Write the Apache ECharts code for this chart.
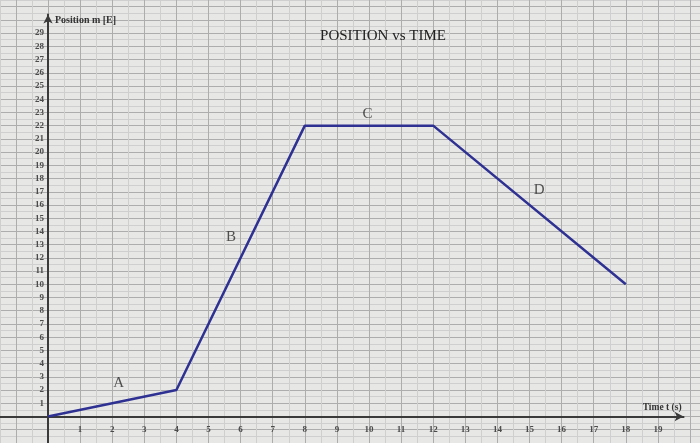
<!DOCTYPE html>
<html>
<head>
<meta charset="utf-8">
<script src="https://cdn.jsdelivr.net/npm/echarts@6/dist/echarts.min.js"></script>
<style>html,body{margin:0;padding:0;background:#e7e7e6}#c{width:700px;height:443px}</style>
</head>
<body>
<div id="c"></div>
<script>
// Data
const times = [0, 4, 8, 12, 18];
const positions = [0, 2, 22, 22, 10];
const segmentNames = ['A', 'B', 'C', 'D'];
const segmentLabelX = [2.2, 5.7, 9.95, 15.3];
const segmentLabelY = [2.5, 13.6, 22.9, 17.1];
const xTickLabels = ['1','2','3','4','5','6','7','8','9','10','11','12','13','14','15','16','17','18','19'];
const yTickLabels = ['1','2','3','4','5','6','7','8','9','10','11','12','13','14','15','16','17','18','19','20','21','22','23','24','25','26','27','28','29'];
const titleText = 'POSITION vs TIME';
const xName = 'Time t (s)';
const yName = 'Position m [E]';

// Layout scale
const pxX = 32.1, x0 = 48;
const pxY = 13.22, y0 = 416.5;
const serif = '"Liberation Serif", "DejaVu Serif", serif';

const chart = echarts.init(document.getElementById('c'), null, {renderer: 'canvas'});
const lineData = times.map((t, i) => [t, positions[i]]);
const labelData = segmentNames.map((n, i) => ({name: n, value: [segmentLabelX[i], segmentLabelY[i]]}));
const hidden = {axisLine: {show: false}, axisTick: {show: false}, axisLabel: {show: false}, splitLine: {show: false}};
const axisLineStyle = {color: '#3a3a3a', width: 2};
const labelStyle = {fontFamily: serif, fontSize: 9, fontWeight: 'bold', color: '#4a4a4a'};

chart.setOption({
  backgroundColor: '#e7e7e6',
  animation: false,
  title: {
    text: titleText, left: 378, top: 24, textAlign: 'center',
    textStyle: {fontFamily: serif, fontSize: 15, fontWeight: 'normal', color: '#222'}
  },
  grid: [
    {left: x0 - 2 * pxX, width: 23 * pxX, top: y0 - 32 * pxY, height: 35 * pxY, containLabel: false, outerBoundsMode: 'none'},
    {left: x0, width: 19.8 * pxX, top: y0 - 30.4 * pxY, height: 30.4 * pxY, containLabel: false, outerBoundsMode: 'none'},
    {left: x0 - 2 * pxX, width: 21.8 * pxX, top: y0 - 30.4 * pxY, height: 33.4 * pxY, containLabel: false, outerBoundsMode: 'none'}
  ],
  xAxis: [
    {gridIndex: 0, type: 'value', min: -2, max: 21, interval: 1,
     axisLine: {show: false}, axisTick: {show: false}, axisLabel: {show: false},
     splitLine: {show: true, lineStyle: {color: '#adadad', width: 1}},
     minorTick: {show: false, splitNumber: 2},
     minorSplitLine: {show: true, lineStyle: {color: '#cfcfcf', width: 1}}},
    {gridIndex: 1, type: 'value', min: 0, max: 19.8, interval: 1,
     axisLine: {show: false}, axisTick: {show: false}, splitLine: {show: false},
     axisLabel: Object.assign({show: true, margin: 9, showMaxLabel: false,
       formatter: v => (Number.isInteger(v) && v >= 1 && v <= 19) ? xTickLabels[v - 1] : ''}, labelStyle),
     name: xName, nameLocation: 'end', nameGap: -2,
     nameTextStyle: {fontFamily: serif, fontSize: 9.5, fontWeight: 'bold', color: '#333', align: 'right', verticalAlign: 'bottom', padding: [0, 0, 4, 0]}},
    Object.assign({gridIndex: 2, type: 'value', min: -2, max: 19.8}, hidden,
     {axisLine: {show: true, onZero: true, symbol: ['none', 'arrow'], symbolSize: [7, 9], lineStyle: axisLineStyle}})
  ],
  yAxis: [
    {gridIndex: 0, type: 'value', min: -3, max: 32, interval: 1,
     axisLine: {show: false}, axisTick: {show: false}, axisLabel: {show: false},
     splitLine: {show: true, lineStyle: {color: '#adadad', width: 1}},
     minorTick: {show: false, splitNumber: 2},
     minorSplitLine: {show: true, lineStyle: {color: '#cfcfcf', width: 1}}},
    {gridIndex: 1, type: 'value', min: 0, max: 30.4, interval: 1,
     axisLine: {show: false}, axisTick: {show: false}, splitLine: {show: false},
     axisLabel: Object.assign({show: true, margin: 4, showMaxLabel: false,
       formatter: v => (Number.isInteger(v) && v >= 1 && v <= 29) ? yTickLabels[v - 1] : ''}, labelStyle),
     name: yName, nameLocation: 'end', nameGap: -6,
     nameTextStyle: {fontFamily: serif, fontSize: 10, fontWeight: 'bold', color: '#333', align: 'left', verticalAlign: 'middle', padding: [0, 0, 0, 7]}},
    Object.assign({gridIndex: 2, type: 'value', min: -3, max: 30.4}, hidden,
     {axisLine: {show: true, onZero: true, symbol: ['none', 'arrow'], symbolSize: [7, 9], lineStyle: axisLineStyle}})
  ],
  series: [
    {type: 'line', xAxisIndex: 1, yAxisIndex: 1, data: lineData, showSymbol: false, symbol: 'none',
     lineStyle: {color: '#2e3192', width: 2.5}, z: 5},
    {type: 'scatter', xAxisIndex: 1, yAxisIndex: 1, data: labelData, symbolSize: 0,
     label: {show: true, position: 'inside', formatter: p => p.name, fontFamily: serif, fontSize: 15, color: '#2a2a2a'}}
  ]
});
</script>
</body>
</html>
